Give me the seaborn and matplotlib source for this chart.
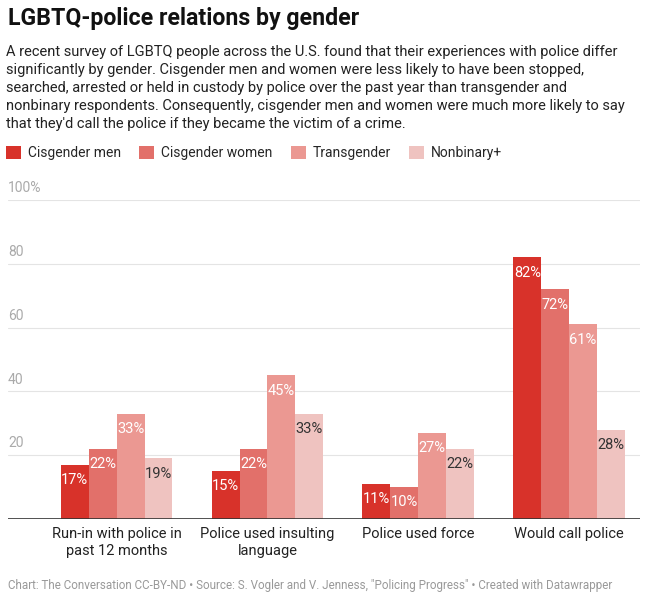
import pandas as pd
import matplotlib.pyplot as plt
import seaborn as sns
from matplotlib.patches import Patch

# data
categories = ["Run-in with police in\npast 12 months", "Police used insulting\nlanguage",
              "Police used force", "Would call police"]
groups = ["Cisgender men", "Cisgender women", "Transgender", "Nonbinary+"]
cis_men = [17, 15, 11, 82]
cis_women = [22, 22, 10, 72]
transgender = [33, 45, 27, 61]
nonbinary = [19, 33, 22, 28]
y_ticks = [20, 40, 60, 80, 100]

colors = ["#d8322a", "#e2706a", "#eb9892", "#efc3c0"]
label_colors = ["white", "white", "white", "#333333"]

rows = []
for g, vals in zip(groups, [cis_men, cis_women, transgender, nonbinary]):
    for c, v in zip(categories, vals):
        rows.append({"category": c, "group": g, "value": v})
df = pd.DataFrame(rows)

sns.set_theme(style="white")
plt.rcParams['font.family'] = ['Roboto', 'DejaVu Sans']

fig = plt.figure(figsize=(6.5, 6), dpi=100)
ax = fig.add_axes([8 / 650, 1 - 519 / 600, 632 / 650, 319 / 600])

sns.barplot(data=df, x="category", y="value", hue="group", hue_order=groups,
            palette=colors, width=0.74, gap=0, saturation=1, legend=False,
            linewidth=0, ax=ax)

# labels inside bars
for cont, lc in zip(ax.containers, label_colors):
    ax.bar_label(cont, labels=[f"{int(v)}%" for v in cont.datavalues],
                 label_type="edge", padding=-16, color=lc, fontsize=10.5)

ax.set_ylim(0, 100)
ax.set_xlim(-0.72, 3.47)
ax.set_xlabel("")
ax.set_ylabel("")
ax.set_yticks([])
for t in y_ticks:
    ax.axhline(t, color="#e4e4e4", lw=0.8, zorder=0)
    ax.text(0, t + 1.5, "100%" if t == 100 else str(t), transform=ax.get_yaxis_transform(),
            color="#aaaaaa", fontsize=10, ha="left", va="bottom")
ax.axhline(0, color="#333333", lw=1.2)
for s in ax.spines.values():
    s.set_visible(False)
ax.tick_params(axis="x", length=0, pad=6, labelsize=10.5, colors="#222222")

# title, description, legend, footer
fig.text(8 / 650, 1 - 18 / 600, "LGBTQ-police relations by gender", fontsize=16.7,
         fontweight="bold", va="center", color="#111111")
desc = ("A recent survey of LGBTQ people across the U.S. found that their experiences with police differ\n"
        "significantly by gender. Cisgender men and women were less likely to have been stopped,\n"
        "searched, arrested or held in custody by police over the past year than transgender and\n"
        "nonbinary respondents. Consequently, cisgender men and women were much more likely to say\n"
        "that they'd call the police if they became the victim of a crime.")
fig.text(6 / 650, 1 - 45 / 600, desc, fontsize=10.5, va="top", color="#222222", linespacing=1.36)

handles = [Patch(facecolor=c, edgecolor="none") for c in colors]
fig.legend(handles, groups, loc="center left", bbox_to_anchor=(0, 1 - 153 / 600), ncol=4,
           frameon=False, fontsize=10, handlelength=1.1, handleheight=1.1,
           handletextpad=0.5, columnspacing=1.3, borderaxespad=0)

fig.text(8 / 650, 1 - 586 / 600,
         'Chart: The Conversation CC-BY-ND • Source: S. Vogler and V. Jenness, "Policing Progress" • Created with Datawrapper',
         fontsize=8.4, color="#999999", va="center")

plt.savefig("out.png", dpi=100)
